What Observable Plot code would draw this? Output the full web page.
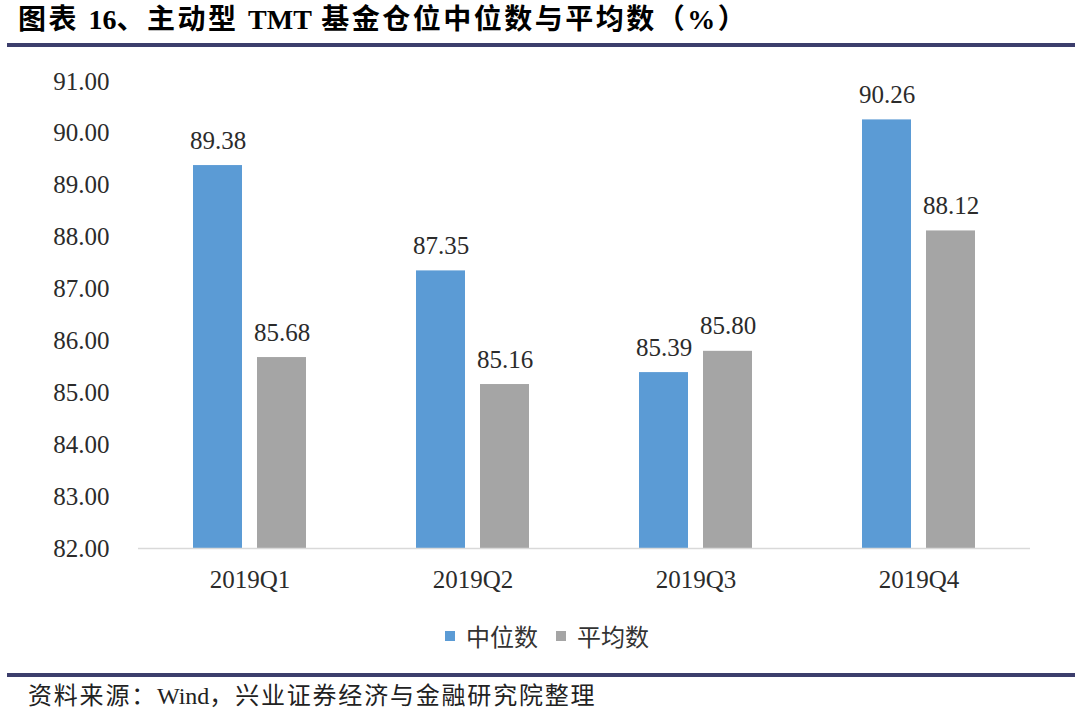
<!DOCTYPE html>
<html>
<head>
<meta charset="utf-8">
<script src="https://cdn.jsdelivr.net/npm/d3@7"></script>
<script src="https://cdn.jsdelivr.net/npm/@observablehq/plot@0.6"></script>
<style>
  body { margin: 0; background: #fff; width: 1080px; height: 724px; position: relative; overflow: hidden; }
  .title { position: absolute; left: 18px; top: -3px; font-family: "Liberation Serif", "Noto Sans CJK SC", serif; font-weight: bold; font-size: 28px; letter-spacing: 2.5px; color: #000; white-space: nowrap; }
  .latin { letter-spacing: 0; }
  .rule { position: absolute; left: 7px; width: 1068px; height: 4px; background: #3C3E6C; }
  #chart { position: absolute; left: 0; top: 55px; }
  .legend { position: absolute; top: 618px; left: 0; width: 1080px; display: flex; justify-content: center; align-items: center; font-family: "Noto Sans CJK SC", sans-serif; font-size: 24px; color: #333; padding-left: 14px; box-sizing: border-box; }
  .legend .item { display: flex; align-items: center; margin: 0 9px; }
  .legend .sw { width: 10px; height: 10px; margin-right: 11px; }
  .caption { position: absolute; left: 28px; top: 676px; font-family: "Liberation Serif", "Noto Sans CJK SC", serif; font-size: 24px; letter-spacing: 1.8px; color: #222; white-space: nowrap; }
</style>
</head>
<body>
<div class="title">图表 <span class="latin">16</span>、主动型 <span class="latin">TMT</span> 基金仓位中位数与平均数（%）</div>
<div class="rule" style="top:43px"></div>
<div id="chart"></div>
<div class="legend" id="legend"></div>
<div class="rule" style="top:673px"></div>
<div class="caption">资料来源：<span class="latin">Wind</span>，兴业证券经济与金融研究院整理</div>
<script>
// Quarterly position statistics of active TMT funds (%)
const quarters = ["2019Q1", "2019Q2", "2019Q3", "2019Q4"];
const seriesNames = ["中位数", "平均数"];
const medianValues = [89.38, 87.35, 85.39, 90.26];
const meanValues = [85.68, 85.16, 85.80, 88.12];
const yTicks = [82, 83, 84, 85, 86, 87, 88, 89, 90, 91];
const colors = ["#5B9BD5", "#A5A5A5"];

const rows = quarters.flatMap((q, i) => [
  {quarter: q, series: seriesNames[0], value: medianValues[i]},
  {quarter: q, series: seriesNames[1], value: meanValues[i]}
]);

const serif = "'Liberation Serif', 'Times New Roman', serif";

const chart = Plot.plot({
  width: 1080,
  height: 550,
  marginTop: 26,
  marginBottom: 57,
  marginLeft: 137,
  marginRight: 50,
  style: {fontFamily: serif, fontSize: "25px", color: "#2b2b2b", background: "transparent"},
  fx: {domain: quarters, padding: 0, label: null, axis: "bottom", tickSize: 0, tickPadding: 22},
  x: {domain: seriesNames, paddingInner: 0.234, paddingOuter: 0.859, axis: null},
  y: {domain: [82, 91], ticks: yTicks, tickFormat: d => d.toFixed(2), tickSize: 0, tickPadding: 29, label: null},
  color: {domain: seriesNames, range: colors},
  marks: [
    Plot.barY(rows, {fx: "quarter", x: "series", y1: 82, y2: "value", fill: "series"}),
    Plot.ruleY([82], {stroke: "#D9D9D9", strokeWidth: 1.5}),
    Plot.text(rows, {fx: "quarter", x: "series", y: "value", text: d => d.value.toFixed(2), dy: -25, fontSize: 25, fill: "#2b2b2b"})
  ]
});
document.getElementById("chart").appendChild(chart);

// Legend built from the same series names and colours
const legend = document.getElementById("legend");
seriesNames.forEach((name, i) => {
  const item = document.createElement("div");
  item.className = "item";
  const sw = document.createElement("div");
  sw.className = "sw";
  sw.style.background = colors[i];
  const label = document.createElement("span");
  label.textContent = name;
  item.appendChild(sw);
  item.appendChild(label);
  legend.appendChild(item);
});
</script>
</body>
</html>
